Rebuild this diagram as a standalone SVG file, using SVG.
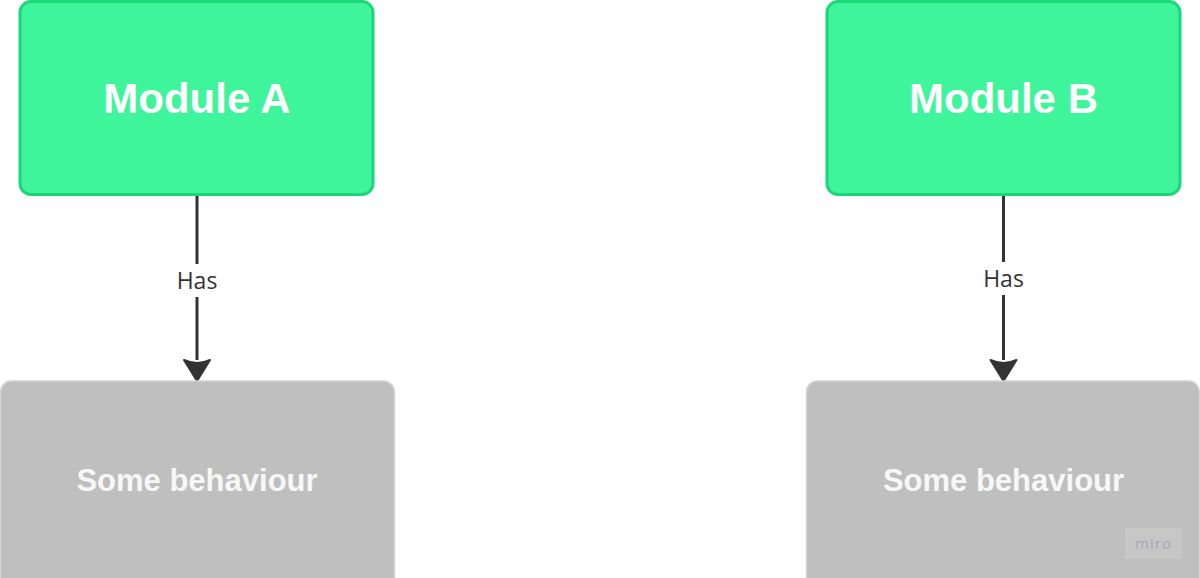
<svg xmlns="http://www.w3.org/2000/svg" width="1200" height="578" viewBox="0 0 1200 578">
<style>
.mod{fill:#3ef59b;stroke:#19d877;stroke-width:3}
.beh{fill:#bfbfbf;stroke:#d4d4d4;stroke-width:1.5}
.mt{font-family:"Liberation Sans",Arial,sans-serif;font-weight:bold;font-size:42px;fill:#ffffff;text-anchor:middle}
.bt{font-family:"Liberation Sans",Arial,sans-serif;font-weight:bold;font-size:31px;fill:#f7f7f7;text-anchor:middle}
.edge{stroke:#333333;stroke-width:3;fill:none}
.head{fill:#333333;stroke:#333333;stroke-width:2;stroke-linejoin:round}
.lbl{font-family:"Open Sans","Noto Sans",sans-serif;font-size:23px;fill:#333333;text-anchor:middle}
</style>
<rect width="1200" height="578" fill="#ffffff"/>
<g id="connectors">
<g id="edgeA">
<line class="edge" x1="197" y1="196" x2="197" y2="264"/>
<line class="edge" x1="197" y1="297" x2="197" y2="360"/>
<path class="head" d="M184,360 Q197,366 210,360 L197,381 Z"/>
<text class="lbl" x="197" y="289">Has</text>
</g>
<g id="edgeB">
<line class="edge" x1="1003.5" y1="196" x2="1003.5" y2="262"/>
<line class="edge" x1="1003.5" y1="295" x2="1003.5" y2="360"/>
<path class="head" d="M990.5,360 Q1003.5,366 1016.5,360 L1003.5,381 Z"/>
<text class="lbl" x="1003.5" y="287">Has</text>
</g>
</g>
<g id="moduleA">
<rect class="mod" x="20" y="1.5" width="353" height="193" rx="11"/>
<text class="mt" x="197" y="113">Module A</text>
</g>
<g id="moduleB">
<rect class="mod" x="827" y="1.5" width="353" height="193" rx="11"/>
<text class="mt" x="1003.5" y="113">Module B</text>
</g>
<g id="behaviourA">
<rect class="beh" x="0.5" y="381" width="394" height="210" rx="11"/>
<text class="bt" x="197" y="491">Some behaviour</text>
</g>
<g id="behaviourB">
<rect class="beh" x="806.5" y="381" width="393" height="210" rx="11"/>
<text class="bt" x="1003.5" y="491">Some behaviour</text>
</g>
<g id="watermark">
<rect x="1126" y="529" width="55" height="29" fill="#c6c6c6" stroke="#cccccc" stroke-width="1"/>
<text x="1153.5" y="549" font-family="Open Sans,sans-serif" font-size="15" fill="#a9a9b3" text-anchor="middle" letter-spacing="1">miro</text>
</g>
</svg>
